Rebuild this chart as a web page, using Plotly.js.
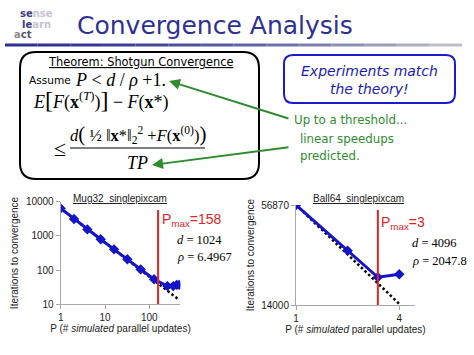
<!DOCTYPE html>
<html>
<head>
<meta charset="utf-8">
<script src="https://cdn.plot.ly/plotly-3.0.1.min.js"></script>
<style>
  html, body { margin: 0; padding: 0; background: #ffffff; }
  #chart { width: 474px; height: 355px; }
</style>
</head>
<body>
<div id="chart"></div>
<script>
// ---------- data ----------
// Mug32_singlepixcam
const mugP = [1, 2, 4, 8, 16, 32, 64, 128, 256, 348, 415, 470];
const mugIters = [6380, 3120, 1550, 795, 405, 207, 105, 54, 34, 34, 37, 37];
const mugIdealP = [1, 440];
const mugIdealIters = [6380, 14.5];
const mugPmax = 158;
const mugRedIters = [10, 5700];
const mugXTicks = [1, 10, 100];
const mugYTicks = [10, 100, 1000, 10000];

// Ball64_singlepixcam
const ballP = [1, 2, 3, 4];
const ballIters = [56870, 30000, 20650, 21530];
const ballIdealP = [1, 4];
const ballIdealIters = [56870, 14217];
const ballPmax = 3;
const ballRedIters = [14000, 53000];
const ballXTicks = [1, 4];
const ballYTicks = [14000, 56870];

// ---------- helpers (pixel -> paper) ----------
const W = 474, H = 355;
const X = p => p / W;
const Y = p => 1 - p / H;

const BLUE = '#1414c8';
const RED = '#e02424';
const GREEN = '#2e8b2e';
const NAVY = '#2e3192';
const SANS = 'DejaVu Sans';
const ARIAL = 'Liberation Sans';
const SERIF = 'Liberation Serif';

const traces = [
  { x: mugIdealP, y: mugIdealIters, xaxis: 'x', yaxis: 'y', mode: 'lines',
    line: { color: '#000000', width: 2.5, dash: '2.5px,2.5px' }, hoverinfo: 'skip' },
  { x: mugP, y: mugIters, xaxis: 'x', yaxis: 'y', mode: 'lines+markers',
    line: { color: BLUE, width: 3 }, marker: { symbol: 'diamond', size: 8, color: BLUE } },
  { x: [mugPmax, mugPmax], y: mugRedIters, xaxis: 'x', yaxis: 'y', mode: 'lines',
    line: { color: RED, width: 2 }, hoverinfo: 'skip' },

  { x: ballIdealP, y: ballIdealIters, xaxis: 'x2', yaxis: 'y2', mode: 'lines',
    line: { color: '#000000', width: 2.5, dash: '2.5px,2.5px' }, hoverinfo: 'skip' },
  { x: ballP, y: ballIters, xaxis: 'x2', yaxis: 'y2', mode: 'lines+markers',
    line: { color: BLUE, width: 3 }, marker: { symbol: 'diamond', size: 8, color: BLUE } },
  { x: [ballPmax, ballPmax], y: ballRedIters, xaxis: 'x2', yaxis: 'y2', mode: 'lines',
    line: { color: RED, width: 2 }, hoverinfo: 'skip' }
];

const axisCommon = {
  type: 'log', showgrid: false, zeroline: false, showline: true,
  linecolor: '#a8a8a8', linewidth: 1, ticks: 'outside', ticklen: 4,
  tickcolor: '#a8a8a8', tickfont: { family: ARIAL, size: 10, color: '#222222' }
};
const titleFont = { family: ARIAL, size: 10, color: '#222222' };

function ann(x, y, text, font, opts) {
  return Object.assign({
    xref: 'paper', yref: 'paper', x: X(x), y: Y(y), text: text,
    showarrow: false, xanchor: 'left', yanchor: 'middle',
    font: Object.assign({ family: SANS, size: 12, color: '#000000' }, font || {})
  }, opts || {});
}

function roundRect(x0, y0, x1, y1, r) {
  const p = (a, b) => X(a) + ',' + Y(b);
  return 'M' + p(x0 + r, y0) + ' L' + p(x1 - r, y0) + ' Q' + p(x1, y0) + ' ' + p(x1, y0 + r) +
    ' L' + p(x1, y1 - r) + ' Q' + p(x1, y1) + ' ' + p(x1 - r, y1) +
    ' L' + p(x0 + r, y1) + ' Q' + p(x0, y1) + ' ' + p(x0, y1 - r) +
    ' L' + p(x0, y0 + r) + ' Q' + p(x0, y0) + ' ' + p(x0 + r, y0) + ' Z';
}

// gradient rule below title
const shapes = [];
const ruleX0 = 5, ruleX1 = 462, nSeg = 14;
const c0 = [46, 49, 146], c1 = [190, 190, 200];
for (let i = 0; i < nSeg; i++) {
  const t = Math.pow(i / (nSeg - 1), 1.6);
  const c = c0.map((v, k) => Math.round(v + (c1[k] - v) * t));
  shapes.push({ type: 'line', xref: 'paper', yref: 'paper',
    x0: X(ruleX0 + (ruleX1 - ruleX0) * i / nSeg), x1: X(ruleX0 + (ruleX1 - ruleX0) * (i + 1) / nSeg),
    y0: Y(45), y1: Y(45), line: { color: 'rgb(' + c.join(',') + ')', width: 3 } });
}
shapes.push({ type: 'path', xref: 'paper', yref: 'paper', path: roundRect(20, 52, 259, 179, 16),
  line: { color: '#000000', width: 2 } });
shapes.push({ type: 'path', xref: 'paper', yref: 'paper', path: roundRect(284, 55, 455, 103, 9),
  line: { color: '#1a1ad0', width: 2 } });
shapes.push({ type: 'line', xref: 'paper', yref: 'paper', x0: X(70), x1: X(205), y0: Y(148), y1: Y(148),
  line: { color: '#000000', width: 1 } });

const serif = s => ({ family: SERIF, size: s, color: '#000000' });
const logoFont = { family: SANS, size: 10, color: '#3a3a7e', weight: 'bold' };

const annotations = [
  // logo
  ann(18, 14, '<span style="color:#3a3a7e">se</span><span style="color:#c4c4d0">nse</span>', logoFont),
  ann(20, 24.5, '<span style="color:#3a3a7e">le</span><span style="color:#c4c4d0">arn</span>', logoFont),
  ann(12, 35, '<span style="color:#8a8a8a">a</span><span style="color:#555566">ct</span>', logoFont),
  // title
  ann(75, 25, 'Convergence Analysis', { size: 25, color: NAVY }),
  // theorem
  ann(140.5, 62, '<u>Theorem: Shotgun Convergence</u>', { size: 11.4 }, { xanchor: 'center' }),
  ann(27, 80, 'Assume', { size: 10.6 }),
  ann(73, 80, '<i>P</i> &lt; <i>d</i> / <i>ρ</i> +1.', serif(18)),
  ann(31, 100, '<i>E</i><span style="font-size:24px">[</span><i>F</i>(<b>x</b><sup>(<i>T</i>)</sup>)<span style="font-size:24px">]</span> − <i>F</i>(<b>x</b>*)', serif(18)),
  ann(52, 148, '≤', serif(22)),
  ann(137.5, 134, '<i>d</i><span style="font-size:21px">(</span> ½ ‖<b>x</b>*‖<sub>2</sub><sup>2</sup> +<i>F</i>(<b>x</b><sup>(0)</sup>)<span style="font-size:21px">)</span>', serif(16.5), { xanchor: 'center' }),
  ann(137.5, 163, '<i>TP</i>', serif(18), { xanchor: 'center' }),
  // experiments box
  ann(369.5, 71, '<i>Experiments match</i>', { size: 14, color: '#1a1ab4' }, { xanchor: 'center' }),
  ann(369.5, 89, '<i>the theory!</i>', { size: 14, color: '#1a1ab4' }, { xanchor: 'center' }),
  // green texts
  ann(292, 120, 'Up to a threshold...', { size: 11.8, color: GREEN }),
  ann(298, 139, 'linear speedups', { size: 11.8, color: GREEN }),
  ann(298, 156, 'predicted.', { size: 11.8, color: GREEN }),
  // arrows
  { xref: 'paper', yref: 'paper', x: X(169), y: Y(81), ax: 290 - 169, ay: 119 - 81, text: '',
    showarrow: true, arrowhead: 2, arrowsize: 1.1, arrowwidth: 2, arrowcolor: GREEN },
  { xref: 'paper', yref: 'paper', x: X(152), y: Y(165), ax: 290 - 152, ay: 147 - 165, text: '',
    showarrow: true, arrowhead: 2, arrowsize: 1.1, arrowwidth: 2, arrowcolor: GREEN },
  // chart titles
  ann(120, 198, '<u>Mug32_singlepixcam</u>', { family: ARIAL, size: 10, color: '#222222' }, { xanchor: 'center' }),
  ann(358, 198, '<u>Ball64_singlepixcam</u>', { family: ARIAL, size: 10, color: '#222222' }, { xanchor: 'center' }),
  // chart texts
  ann(160, 220, 'P<sub>max</sub>=158', { family: ARIAL, size: 14, color: RED }),
  ann(175, 239.5, '<i>d</i> = 1024', serif(12.5)),
  ann(175, 257, '<i>ρ</i> = 6.4967', serif(12.5)),
  ann(379, 223, 'P<sub>max</sub>=3', { family: ARIAL, size: 14, color: RED }),
  ann(410, 243, '<i>d</i> = 4096', serif(12.5)),
  ann(410, 261, '<i>ρ</i> = 2047.8', serif(12.5))
];

const layout = {
  width: W, height: H,
  margin: { l: 0, r: 0, t: 0, b: 0 },
  paper_bgcolor: '#ffffff', plot_bgcolor: 'rgba(0,0,0,0)',
  showlegend: false,
  xaxis: Object.assign({}, axisCommon, {
    domain: [X(60.7), X(180.3)], range: [0, 2.7], anchor: 'y',
    tickvals: mugXTicks, ticktext: mugXTicks.map(String),
    title: { text: 'P (# <i>simulated</i> parallel updates)', font: titleFont, standoff: 2 }
  }),
  yaxis: Object.assign({}, axisCommon, {
    domain: [Y(304.3), Y(201.7)], range: [1, 4], anchor: 'x',
    tickvals: mugYTicks, ticktext: mugYTicks.map(String),
    title: { text: 'Iterations to convergence', font: titleFont, standoff: 5 }
  }),
  xaxis2: Object.assign({}, axisCommon, {
    domain: [X(296), X(414.9)], range: [0, 0.693], anchor: 'y2',
    tickvals: ballXTicks, ticktext: ballXTicks.map(String),
    title: { text: 'P (# <i>simulated</i> parallel updates)', font: titleFont, standoff: 2 }
  }),
  yaxis2: Object.assign({}, axisCommon, {
    domain: [Y(305), Y(205)], range: [Math.log10(14000), Math.log10(56870)], anchor: 'x2',
    tickvals: ballYTicks, ticktext: ballYTicks.map(String),
    title: { text: 'Iterations to convergence', font: titleFont, standoff: 4 }
  }),
  shapes: shapes,
  annotations: annotations
};

Plotly.newPlot('chart', traces, layout, { staticPlot: true, displayModeBar: false });
</script>
</body>
</html>
